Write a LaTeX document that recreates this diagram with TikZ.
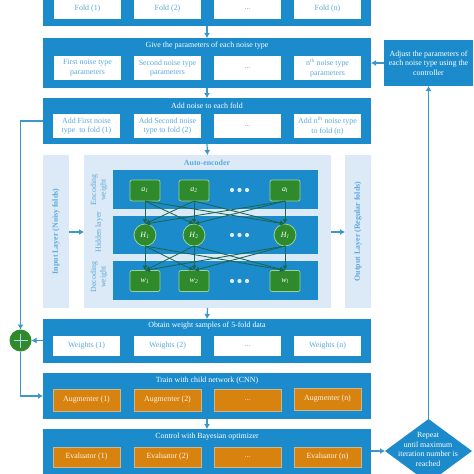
\documentclass[tikz,border=0pt]{standalone}
\usepackage{fontspec}
\setmainfont{Liberation Serif}
\usetikzlibrary{arrows.meta,shapes.geometric}
\definecolor{blk}{HTML}{1B8BCB}
\definecolor{pale}{HTML}{DCE9F6}
\definecolor{txtb}{HTML}{5DA9DC}
\definecolor{grn}{HTML}{2F8A2C}
\definecolor{grnl}{HTML}{9AD39A}
\definecolor{org}{HTML}{D8830F}
\definecolor{orgl}{HTML}{C9B78F}
\definecolor{linkc}{HTML}{3C98C8}
\definecolor{netc}{HTML}{1B6650}
\tikzset{
  x=1pt,y=-1pt,
  base/.style={inner sep=0pt,outer sep=0pt,align=center,font=\fontsize{7.9}{9.6}\selectfont},
  block/.style={base,fill=blk,text=white},
  wbox/.style={base,fill=white,text=txtb},
  obox/.style={base,fill=org,draw=orgl,line width=.8pt,text=white!90!orange},
  panel/.style={base,fill=pale,text=txtb},
  gsq/.style={base,fill=grn,draw=grnl,line width=.7pt,rounded corners=2pt,text=white,minimum width=30pt,minimum height=21pt},
  gcirc/.style={base,circle,fill=grn,draw=grnl,line width=.8pt,text=white,minimum size=22pt},
  ttl/.style={base,text=white},
  lbl/.style={base,text=txtb},
  dots/.style={fill=white!85!blk,circle,inner sep=0pt,minimum size=4.2pt},
  flow/.style={draw=linkc,line width=1.2pt,-{Latex[length=5pt,width=6pt]}},
  net/.style={draw=netc,line width=.85pt,-{Latex[length=5pt,width=5pt]}}
}
\newcommand{\rbox}[7]{\node[#2,minimum width={(#5-#3)*1pt},minimum height={(#6-#4)*1pt}] (#1) at ({(#3+#5)/2},{(#4+#6)/2}) {#7};}
\newcommand{\thn}{n\textsuperscript{th}}
\begin{document}
\begin{tikzpicture}
\useasboundingbox (0,0) rectangle (474,474);
\clip (0,0) rectangle (474,474);
% blocks
\rbox{b1}{block}{43}{-10}{371}{26}{}
\rbox{b2}{block}{43}{38}{371}{88}{}
\rbox{b3}{block}{43}{98}{371}{144}{}
\rbox{b4}{block}{43}{319}{371}{363}{}
\rbox{b5}{block}{43}{373}{371}{419}{}
\rbox{b6}{block}{43}{429}{371}{484}{}
\rbox{side}{block}{384}{40}{473}{86}{Adjust the parameters of\\each noise type using the\\controller}
% block 1
\rbox{f1}{wbox}{54}{-1}{121}{19}{Fold (1)}
\rbox{f2}{wbox}{134}{-1}{201}{19}{Fold (2)}
\rbox{f3}{wbox}{214}{-1}{281}{19}{...}
\rbox{f4}{wbox}{294}{-1}{361}{19}{Fold (n)}
% block 2
\node[ttl] (t2) at (207,45.5) {Give the parameters of each noise type};
\rbox{p1}{wbox}{54}{56}{121}{80}{First noise type\\parameters}
\rbox{p2}{wbox}{134}{56}{201}{80}{Second noise type\\parameters}
\rbox{p3}{wbox}{214}{56}{281}{80}{...}
\rbox{p4}{wbox}{294}{56}{361}{80}{\thn{} noise type\\parameters}
% block 3
\node[ttl] (t3) at (207,105.5) {Add noise to each fold};
\rbox{n1}{wbox}{53}{114}{120}{138}{Add First noise\\type \ to fold (1)}
\rbox{n2}{wbox}{134}{114}{201}{138}{Add Second noise\\type to fold (2)}
\rbox{n3}{wbox}{214}{114}{281}{138}{...}
\rbox{n4}{wbox}{294}{114}{361}{138}{Add \thn{} noise type\\to fold (n)}
% panels
\rbox{inp}{panel}{43}{155}{69}{308}{}
\rbox{ae}{panel}{84}{155}{331}{308}{}
\rbox{out}{panel}{345}{155}{371}{308}{}
\node[lbl,rotate=90,font=\fontsize{7.9}{9.6}\selectfont\bfseries] (inl) at (inp.center) {Input Layer (Noisy folds)};
\node[lbl,rotate=90,font=\fontsize{7.9}{9.6}\selectfont\bfseries] (outl) at (out.center) {Output Layer (Regular folds)};
\node[lbl,font=\fontsize{7.9}{9.6}\selectfont\bfseries] (ael) at (207,163) {Auto-encoder};
\rbox{s1}{block}{113}{170}{318}{209}{}
\rbox{s2}{block}{113}{216}{318}{254}{}
\rbox{s3}{block}{113}{261}{318}{300}{}
\node[lbl,rotate=90] (l1) at (99,190) {Encoding\\weight};
\node[lbl,rotate=90] (l2) at (99,232) {Hidden layer};
\node[lbl,rotate=90] (l3) at (99,277) {Decoding\\weight};
% network nodes
\node[gsq] (a1) at (145,190.5) {\textit{a}\textsubscript{\textit{1}}};
\node[gsq] (a2) at (194,190.5) {\textit{a}\textsubscript{\textit{2}}};
\node[gsq] (a3) at (285,190.5) {\textit{a}\textsubscript{\textit{l}}};
\node[gcirc] (h1) at (145,235) {\textit{H}\textsubscript{\textit{1}}};
\node[gcirc] (h2) at (194,235) {\textit{H}\textsubscript{\textit{2}}};
\node[gcirc] (h3) at (285,235) {\textit{H}\textsubscript{\textit{l}}};
\node[gsq] (w1) at (145,281) {\textit{w}\textsubscript{\textit{1}}};
\node[gsq] (w2) at (194,281) {\textit{w}\textsubscript{\textit{2}}};
\node[gsq] (w3) at (285,281) {\textit{w}\textsubscript{\textit{l}}};
\foreach \i in {1,2,3}{\foreach \j in {1,2,3}{
  \draw[net] (a\i.south) -- (h\j.north);
  \draw[net] (h\i.south) -- (w\j.north);
}}
\foreach \y/\r in {190/a,235/h,281/w}{
  \node[dots] (\r d1) at (232,\y) {};
  \node[dots] (\r d2) at (239.5,\y) {};
  \node[dots] (\r d3) at (247,\y) {};
}
% block 4
\node[ttl] (t4) at (207,326) {Obtain weight samples of 5-fold data};
\rbox{w4a}{wbox}{53}{336}{120}{356}{Weights (1)}
\rbox{w4b}{wbox}{134}{336}{201}{356}{Weights (2)}
\rbox{w4c}{wbox}{214}{336}{281}{356}{...}
\rbox{w4d}{wbox}{294}{336}{361}{356}{Weights (n)}
% block 5
\node[ttl] (t5) at (207,380.5) {Train with child network (CNN)};
\rbox{g1}{obox}{53}{389}{120}{411}{Augmenter (1)}
\rbox{g2}{obox}{134}{389}{201}{411}{Augmenter (2)}
\rbox{g3}{obox}{214}{389}{281}{411}{...}
\rbox{g4}{obox}{294}{388}{361}{410}{Augmenter (n)}
% block 6
\node[ttl] (t6) at (207,437) {Control with Bayesian optimizer};
\rbox{e1}{obox}{53}{447}{120}{467}{Evaluator (1)}
\rbox{e2}{obox}{134}{447}{201}{467}{Evaluator (2)}
\rbox{e3}{obox}{214}{447}{281}{467}{...}
\rbox{e4}{obox}{294}{447}{361}{467}{Evaluator (n)}
% diamond
\node[diamond,fill=blk,inner sep=0pt,outer sep=0pt,minimum width=87pt,minimum height=64pt,aspect=1.36] (d) at (428.5,451) {};
\node[ttl] (dt) at (428,449.5) {Repeat\\until maximum\\iteration number is\\reached};
% plus
\node[circle,fill=grn,inner sep=0pt,outer sep=0pt,minimum size=22pt] (plus) at (20.5,340.5) {};
\draw[white!65!blk,line width=1.8pt] ([xshift=-7pt]plus.center) -- ([xshift=7pt]plus.center);
\draw[white!65!blk,line width=1.8pt] ([yshift=-7pt]plus.center) -- ([yshift=7pt]plus.center);
% connectors
\draw[flow] (b1.south) -- (b2.north);
\draw[flow] (b2.south) -- (b3.north);
\draw[flow] (b3.south) -- (ae.north);
\draw[flow] (ae.south) -- (b4.north);
\draw[flow] (b5.south) -- (b6.north);
\draw[flow] (side.west) -- (b2.east);
\draw[flow] (inp.east |- 0,232) -- (ae.west |- 0,232);
\draw[flow] (ae.east |- 0,232) -- (out.west |- 0,232);
\draw[flow] (b4.west |- plus.east) -- (plus.east);
\draw[flow] (b3.west |- 0,121) -- (plus.north |- 0,121) -- (plus.north);
\draw[flow] (plus.south) -- (plus.south |- 0,396) -- (b5.west |- 0,396);
\draw[flow] (b6.east |- d.west) -- (d.west);
\draw[flow] (d.north) -- (d.north |- side.south);
\end{tikzpicture}
\end{document}
